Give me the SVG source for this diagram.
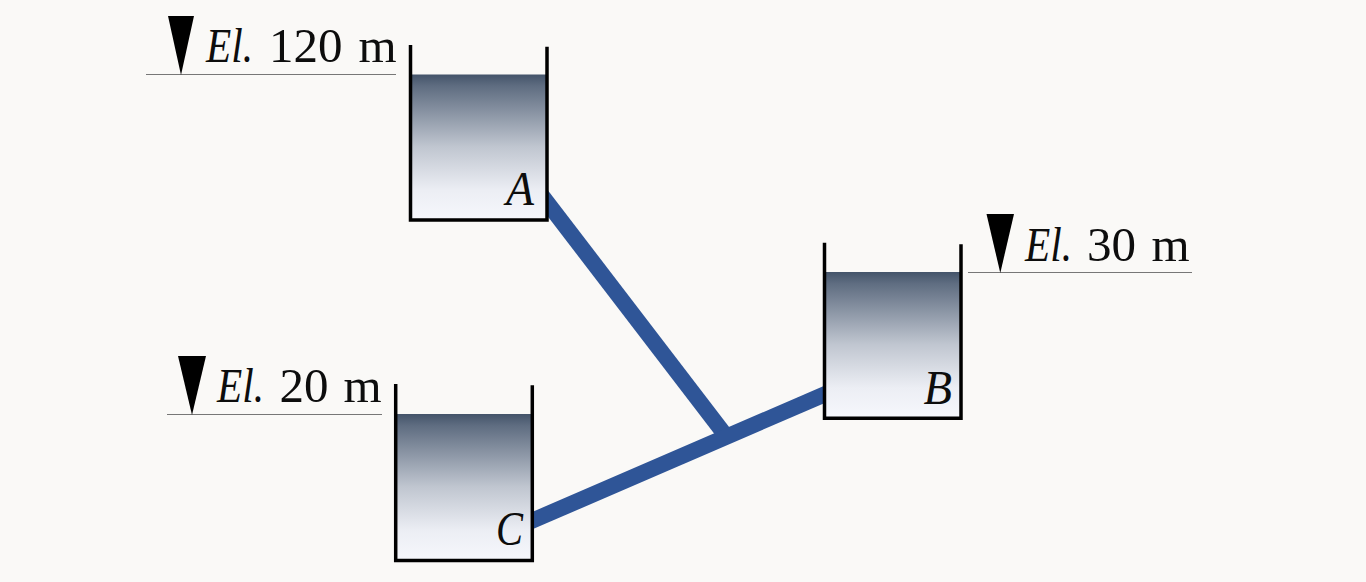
<svg xmlns="http://www.w3.org/2000/svg" width="1366" height="582" viewBox="0 0 1366 582">
<style>
.wall{fill:none;stroke:#000;stroke-width:3.5;stroke-linecap:square}
.lvl{stroke:#777;stroke-width:1.2;fill:none}
.tri{fill:#000}
text{font-family:"Liberation Serif","Times New Roman",serif;fill:#0d0d0d}
.el{font-size:49px}
.nm{font-size:49px;font-style:italic}
.it{font-style:italic}
.pipe{stroke:#2f5597;stroke-width:16;fill:none}
</style>
<defs><linearGradient id="w" x1="0" y1="0" x2="0" y2="1"><stop offset="0" stop-color="#44546a"/><stop offset=".08" stop-color="#5f6d81"/><stop offset=".5" stop-color="#c0c6d0"/><stop offset=".8" stop-color="#eceef4"/><stop offset="1" stop-color="#f6f7fc"/></linearGradient></defs>
<rect width="1366" height="582" fill="#faf9f7"/>
<g id="connectors">
<path class="pipe" d="M535 186.600L726 436"/>
<path class="pipe" d="M520 526L835 389.800"/>
</g>
<g id="tank-a">
<rect x="411" y="74.500" width="135" height="145" fill="url(#w)"/>
<path class="wall" d="M410.500 46.750V220H547V48.500"/>
<text class="nm" x="506" y="205" textLength="28" lengthAdjust="spacingAndGlyphs">A</text>
</g>
<g id="tank-b">
<rect x="825" y="272" width="135" height="145" fill="url(#w)"/>
<path class="wall" d="M824.500 244.500V418.200H961V246"/>
<text class="nm" x="923.500" y="404" textLength="28.500" lengthAdjust="spacingAndGlyphs">B</text>
</g>
<g id="tank-c">
<rect x="396" y="414" width="135" height="146" fill="url(#w)"/>
<path class="wall" d="M395.700 385.750V560.500H532.300V387"/>
<text class="nm" x="496" y="545" textLength="27" lengthAdjust="spacingAndGlyphs">C</text>
</g>
<g id="level-a">
<path class="lvl" d="M146 74.500H396"/>
<path class="tri" d="M168 16H194L181 75Z"/>
<text class="el" y="62"><tspan class="it" x="206" textLength="47" lengthAdjust="spacingAndGlyphs">El.</tspan><tspan x="269">120</tspan><tspan x="358.500">m</tspan></text>
</g>
<g id="level-b">
<path class="lvl" d="M968 272.500H1192"/>
<path class="tri" d="M986.500 214H1014L1000.300 273Z"/>
<text class="el" y="260.500"><tspan class="it" x="1025" textLength="47" lengthAdjust="spacingAndGlyphs">El.</tspan><tspan x="1087">30</tspan><tspan x="1151.500">m</tspan></text>
</g>
<g id="level-c">
<path class="lvl" d="M167 414.500H382"/>
<path class="tri" d="M178 356H206L192 415Z"/>
<text class="el" y="402"><tspan class="it" x="217" textLength="47" lengthAdjust="spacingAndGlyphs">El.</tspan><tspan x="279.500">20</tspan><tspan x="343.500">m</tspan></text>
</g>
</svg>
